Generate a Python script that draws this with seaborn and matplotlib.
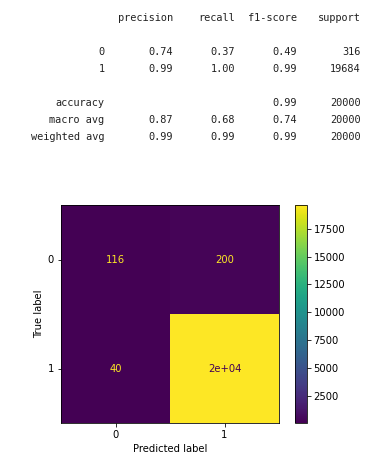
import numpy as np
import matplotlib
matplotlib.use("Agg")
import matplotlib.pyplot as plt
import seaborn as sns

# classification report values
classes = ["0", "1"]
precision = [0.74, 0.99]
recall = [0.37, 1.00]
f1 = [0.49, 0.99]
support = [316, 19684]
accuracy = 0.99
macro_avg = [0.87, 0.68, 0.74]
weighted_avg = [0.99, 0.99, 0.99]
total = 20000

# confusion matrix
cm = np.array([[116, 200],
               [40, 19644]])
labels = ["0", "1"]

plt.rcParams['font.size'] = 10
fig = plt.figure(figsize=(379 / 72, 461 / 72), dpi=72)

# report rows: (row position, cells)
rows = [
    (0, ["", "precision", "recall", "f1-score", "support"]),
]
for k, (c, p, r, f, s) in enumerate(zip(classes, precision, recall, f1, support)):
    rows.append((2 + k, [c, f"{p:.2f}", f"{r:.2f}", f"{f:.2f}", str(s)]))
rows.append((5, ["accuracy", "", "", f"{accuracy:.2f}", str(total)]))
rows.append((6, ["macro avg"] + [f"{v:.2f}" for v in macro_avg] + [str(total)]))
rows.append((7, ["weighted avg"] + [f"{v:.2f}" for v in weighted_avg] + [str(total)]))

col_right = [104.5, 173, 235, 297, 360.5]
y0 = 18
step = 17
for i, cells in rows:
    for x, cell in zip(col_right, cells):
        if cell:
            fig.text(x / 379, 1 - (y0 + i * step) / 461, cell, ha='right', va='center',
                     family='DejaVu Sans Mono', fontsize=10.3, color='#222222')

# confusion matrix display
ax = fig.add_axes([61 / 379, 1 - 423 / 461, 218 / 379, 218 / 461])
cax = fig.add_axes([295 / 379, 1 - 423 / 461, 11.5 / 379, 218 / 461])

annot = np.empty(cm.shape, dtype=object)
for i in range(cm.shape[0]):
    for j in range(cm.shape[1]):
        t = format(cm[i, j], '.2g')
        d = format(cm[i, j], 'd')
        annot[i, j] = d if len(d) < len(t) else t

sns.heatmap(cm, annot=annot, fmt='', cmap='viridis', ax=ax, cbar_ax=cax,
            xticklabels=labels, yticklabels=labels, annot_kws={'fontsize': 10})

cmap = plt.get_cmap('viridis')
thresh = (cm.max() + cm.min()) / 2.0
for txt, val in zip(ax.texts, cm.flatten()):
    txt.set_color(cmap(0.0) if val >= thresh else cmap(1.0))

for sp in ax.spines.values():
    sp.set_visible(True)
    sp.set_linewidth(0.8)
ax.tick_params(length=3.5, width=0.8)
ax.set_yticklabels(labels, rotation=0)
ax.set_xticklabels(labels, rotation=0)
ax.set_xlabel("Predicted label")
ax.set_ylabel("True label")

cb = ax.collections[0].colorbar
cb.outline.set_linewidth(0.8)
cb.outline.set_visible(True)
cb.set_ticks([2500, 5000, 7500, 10000, 12500, 15000, 17500])
cax.tick_params(length=3.5, width=0.8)

fig.savefig("out.png", dpi=72)
